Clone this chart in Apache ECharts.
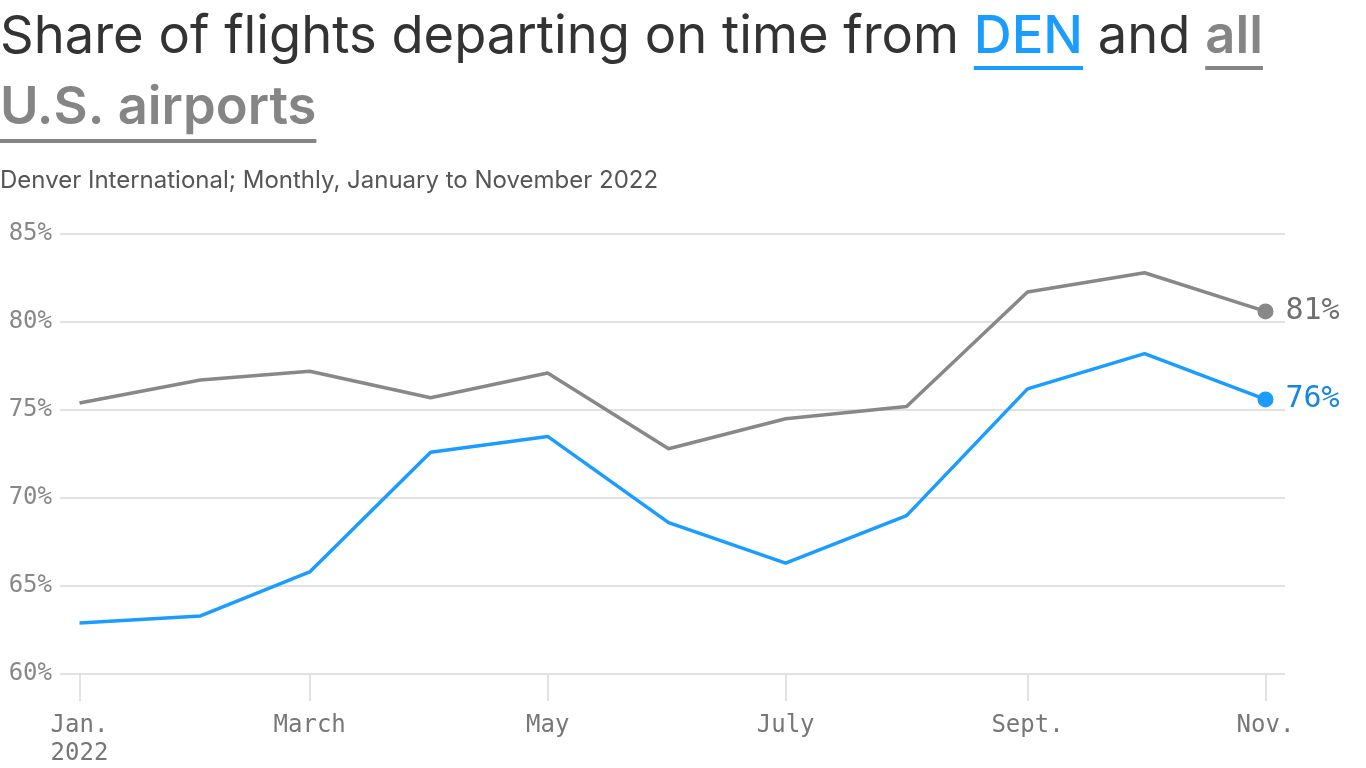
<!DOCTYPE html>
<html>
<head>
<meta charset="utf-8">
<script src="https://cdn.jsdelivr.net/npm/echarts@6/dist/echarts.min.js"></script>
<style>
  html, body { margin: 0; background: #fff; }
  #main { width: 1366px; height: 768px; }
</style>
</head>
<body>
<div id="main"></div>
<script>
// monthly data, Jan - Nov 2022
var monthIdx = [0, 1, 2, 3, 4, 5, 6, 7, 8, 9, 10];
var denver = [62.9, 63.3, 65.8, 72.6, 73.5, 68.6, 66.3, 69.0, 76.2, 78.2, 75.6];
var allUS = [75.4, 76.7, 77.2, 75.7, 77.1, 72.8, 74.5, 75.2, 81.7, 82.8, 80.6];
var tickMonths = [0, 2, 4, 6, 8, 10];
var tickLabels = ['Jan.\n2022', 'March', 'May', 'July', 'Sept.', 'Nov.'];

var BLUE = '#1a9dff';
var GRAY = '#888888';
var monoFont = '"DejaVu Sans Mono", "Liberation Mono", monospace';
var sansFont = 'Inter, "Noto Sans", sans-serif';

// x position = days since Jan 1 2022 (months are drawn on a day scale)
function dayOf(m) { return Math.round((Date.UTC(2022, m, 1) - Date.UTC(2022, 0, 1)) / 86400000); }

var tickValues = tickMonths.map(dayOf);
var labelByDay = {};
tickMonths.forEach(function (m, i) { labelByDay[dayOf(m)] = tickLabels[i]; });

function pairs(vals) {
  return monthIdx.map(function (m, i) { return [dayOf(m), vals[i]]; });
}

// title pieces, laid out with measured widths
var ctx = document.createElement('canvas').getContext('2d');
function measure(text, weight, size) {
  ctx.font = weight + ' ' + size + 'px ' + sansFont;
  return ctx.measureText(text).width;
}
var titleSize = 52.5;
var titleLines = [
  { y: 37, uy: 66, parts: [
    { t: 'Share of flights departing on time from ', c: '#333333', w: 400 },
    { t: 'DEN', c: BLUE, w: 500, u: true },
    { t: ' and ', c: '#333333', w: 400 },
    { t: 'all', c: '#858585', w: 600, u: true }
  ] },
  { y: 108, uy: 139, parts: [
    { t: 'U.S. airports', c: '#858585', w: 600, u: true }
  ] }
];
var graphics = [];
titleLines.forEach(function (line) {
  var x = 0;
  line.parts.forEach(function (p) {
    var w = measure(p.t, p.w, titleSize);
    graphics.push({
      type: 'text', x: x, y: line.y, silent: true,
      style: { text: p.t, fill: p.c, font: p.w + ' ' + titleSize + 'px ' + sansFont,
        verticalAlign: 'middle' }
    });
    if (p.u) {
      graphics.push({
        type: 'rect', silent: true,
        shape: { x: x, y: line.uy, width: w, height: 4 },
        style: { fill: p.c }
      });
    }
    x += w;
  });
});
graphics.push({
  type: 'text', x: 0, y: 181, silent: true,
  style: { text: 'Denver International; Monthly, January to November 2022',
    fill: '#555555', font: '400 24px ' + sansFont, verticalAlign: 'middle' }
});

var chart = echarts.init(document.getElementById('main'));

function lineSeries(name, vals, color, labelColor) {
  var last = vals.length - 1;
  return {
    name: name, type: 'line', data: pairs(vals),
    symbol: 'circle',
    symbolSize: function (v, p) { return p.dataIndex === last ? 16 : 0; },
    lineStyle: { color: color, width: 3.5 },
    itemStyle: { color: color },
    emphasis: { disabled: true },
    endLabel: {
      show: true, distance: 20, color: labelColor,
      fontFamily: monoFont, fontSize: 30,
      formatter: function (p) { return Math.round(p.value[1]) + '%'; }
    }
  };
}

chart.setOption({
  animation: false,
  graphic: graphics,
  grid: { left: 60, right: 81, top: 234, bottom: 92, containLabel: false },
  xAxis: {
    type: 'value',
    min: -5, max: 309,
    axisLine: { show: false },
    axisTick: { show: true, customValues: tickValues, length: 27,
      lineStyle: { color: '#e2e2e2', width: 2 } },
    splitLine: { show: false },
    axisLabel: {
      customValues: tickValues, margin: 38,
      fontFamily: monoFont, fontSize: 24, color: '#777777', lineHeight: 28,
      formatter: function (v) { return labelByDay[v] || ''; }
    }
  },
  yAxis: {
    type: 'value', min: 60, max: 85, interval: 5,
    axisLine: { show: false }, axisTick: { show: false },
    splitLine: { lineStyle: { color: '#e2e2e2', width: 2 } },
    axisLabel: { formatter: '{value}%', margin: 8,
      fontFamily: monoFont, fontSize: 24, color: '#888888' }
  },
  series: [
    lineSeries('All U.S. airports', allUS, GRAY, '#6f6f6f'),
    lineSeries('DEN', denver, BLUE, '#1686e0')
  ]
});
</script>
</body>
</html>
